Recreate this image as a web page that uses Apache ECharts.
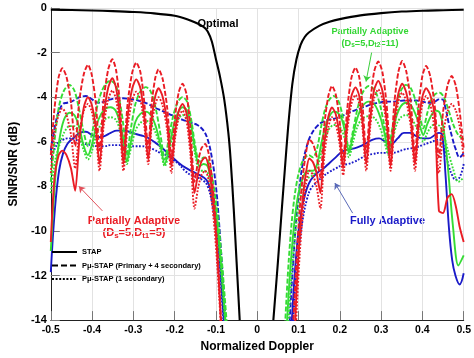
<!DOCTYPE html>
<html>
<head>
<meta charset="utf-8">
<script src="https://cdn.jsdelivr.net/npm/echarts@6/dist/echarts.min.js"></script>
<style>html,body{margin:0;padding:0;background:#fff;}#c{width:474px;height:358px;}</style>
</head>
<body>
<div id="c"></div>
<script>
// ---------- axis ticks ----------
const xTicks = [-0.5,-0.4,-0.3,-0.2,-0.1,0,0.1,0.2,0.3,0.4,0.5];
const yTicks = [-14,-12,-10,-8,-6,-4,-2,0];

// ---------- Optimal ----------
const optXL = [-0.5,-0.45,-0.4,-0.35,-0.3,-0.25,-0.2,-0.17,-0.15,-0.13,-0.12,-0.11,-0.1,-0.09,-0.08,-0.07,-0.0645,-0.057,-0.05,-0.0425];
const optYL = [-0.08,-0.09,-0.11,-0.14,-0.18,-0.24,-0.35,-0.5,-0.65,-0.85,-1.05,-1.5,-2.3,-3.1,-4.1,-5.6,-6.8,-9.0,-11.4,-14];
const optXR = [0.039,0.05,0.06,0.067,0.075,0.085,0.095,0.105,0.115,0.125,0.15,0.175,0.2,0.25,0.3,0.35,0.4,0.45,0.5];
const optYR = [-14,-11.4,-8.9,-7.2,-5.3,-3.4,-2.3,-1.65,-1.3,-1.1,-0.8,-0.62,-0.5,-0.33,-0.23,-0.16,-0.12,-0.1,-0.08];

// ---------- Partially adaptive (Ds=5, Dt1=5) : red ----------
const redXL = [-0.500,-0.491,-0.481,-0.472,-0.462,-0.451,-0.441,
  -0.431,-0.420,-0.410,-0.401,-0.391,-0.382,
  -0.372,-0.361,-0.351,-0.342,-0.333,-0.324,
  -0.314,-0.303,-0.293,-0.283,-0.274,-0.264,
  -0.256,-0.247,-0.239,-0.229,-0.218,-0.208,
  -0.199,-0.190,-0.181,-0.171,-0.162,-0.152,
  -0.143,-0.135,-0.126,
  -0.118,-0.110,-0.103,-0.097,-0.092,-0.086];
const redDashedL = [-6.6,-4.5,-3.1,-2.7,-3.09,-4.25,-6.2,
  -4.17,-2.96,-2.55,-2.98,-4.26,-6.4,
  -4.12,-2.76,-2.3,-2.78,-4.21,-6.6,
  -4.29,-2.91,-2.45,-2.88,-4.16,-6.3,
  -4.33,-3.14,-2.75,-3.19,-4.5,-6.7,
  -4.87,-3.77,-3.4,-3.89,-5.35,-7.8,
  -6.85,-6.29,-6.1,
  -6.5,-7.6,-9.0,-10.7,-12.4,-14.6];
const redSolidL = [-10.5,-7.6,-6.6,-6.4,-6.6,-7.2,-8.2,
  -5.98,-4.45,-4.0,-4.33,-5.33,-7.0,
  -4.86,-3.58,-3.15,-3.58,-4.86,-7.0,
  -4.89,-3.62,-3.2,-3.6,-4.8,-6.8,
  -5.02,-3.96,-3.6,-3.99,-5.16,-7.1,
  -5.54,-4.61,-4.3,-4.74,-6.08,-8.3,
  -7.41,-6.88,-6.7,
  -7.1,-8.1,-9.4,-11.0,-12.6,-14.9];
const redDottedL = [-7.4,-5.6,-4.8,-4.5,-4.8,-5.7,-7.2,
  -5.59,-4.62,-4.3,-4.63,-5.63,-7.3,
  -5.3,-4.1,-3.7,-4.1,-5.3,-7.3,
  -5.33,-4.14,-3.75,-4.11,-5.19,-7.0,
  -5.33,-4.33,-4.0,-4.38,-5.51,-7.4,
  -5.84,-4.91,-4.6,-5.09,-6.55,-9.0,
  -8.05,-7.49,-7.3,
  -7.7,-8.7,-10.0,-11.5,-13.0,-15.0];
const redXR = [0.086,0.092,0.097,0.103,0.110,0.118,0.126,
  0.135,0.144,0.153, 0.162,0.172,0.181, 0.190,0.199,0.208,
  0.218,0.228,0.238, 0.247,0.255,0.264, 0.274,0.283,0.293,
  0.303,0.313,0.323, 0.332,0.342,0.351, 0.361,0.372,0.382,
  0.391,0.400,0.409, 0.419,0.430,0.440, 0.450,0.461,0.471,
  0.481,0.490,0.500];
const redDashedR = [-14.6,-12.4,-10.7,-9.0,-7.6,-6.5,-5.9,
  -6.09,-6.66,-7.6, -5.32,-3.96,-3.5, -3.87,-4.97,-6.8,
  -4.51,-3.14,-2.68, -3.1,-4.38,-6.5, -4.22,-2.86,-2.4,
  -2.87,-4.27,-6.6, -4.25,-2.85,-2.38, -2.85,-4.25,-6.6,
  -4.38,-3.04,-2.6, -3.06,-4.42,-6.7, -4.67,-3.46,-3.05,
  -3.5,-4.6,-6.3];
const redSolidR = [-16.5,-14.0,-12.0,-10.2,-8.6,-7.4,-6.75,
  -6.92,-7.44,-8.3, -6.16,-4.89,-4.46, -4.76,-5.68,-7.2,
  -5.18,-3.96,-3.56, -3.94,-5.09,-7.0, -4.93,-3.68,-3.27,
  -3.7,-4.97,-7.1, -5.04,-3.81,-3.4, -3.8,-5.0,-7.0,
  -5.11,-3.98,-3.6, -3.9,-4.9,-9.1, -9.2,-8.5,-8.35,
  -8.9,-9.8,-10.5];
const redDottedR = [-17.5,-15.0,-13.0,-11.0,-9.3,-7.9,-7.3,
  -7.49,-8.05,-9.0, -6.72,-5.36,-4.9, -5.19,-6.05,-7.5,
  -5.5,-4.3,-3.9, -4.28,-5.41,-7.3, -5.27,-4.05,-3.65,
  -4.06,-5.27,-7.3, -5.35,-4.19,-3.8, -4.19,-5.35,-7.3,
  -5.44,-4.32,-3.95, -4.33,-5.48,-7.4, -5.68,-4.64,-4.3,
  -4.6,-5.3,-6.7];

// ---------- Partially adaptive (Ds=5, Dt2=11) : green ----------
const greenXL = [-0.5,-0.49,-0.48,-0.468,-0.455,-0.443,-0.432,-0.42,-0.41,-0.4,-0.39,-0.378,-0.366,-0.355,-0.343,-0.332,-0.324,-0.316,-0.306,-0.295,-0.283,-0.27,-0.258,-0.246,-0.235,-0.224,-0.214,-0.203,-0.192,-0.181,-0.17,-0.16,-0.15,-0.14,-0.13,-0.12,-0.11,-0.1,-0.092,-0.085,-0.079,-0.073,-0.068];
const greenDashedL = [-7.8,-5.8,-4.4,-3.7,-3.45,-3.7,-4.5,-5.6,-6.2,-5.6,-4.6,-3.8,-3.38,-3.27,-3.45,-4.3,-5.3,-6.6,-5.4,-4.3,-3.75,-3.55,-3.75,-4.5,-5.6,-6.8,-5.8,-4.8,-4.2,-4.0,-4.2,-5.0,-6.2,-6.9,-6.7,-6.8,-7.5,-8.7,-10.0,-11.5,-12.9,-14.4,-16];
const greenSolidL = [-10.9,-7.8,-6.0,-5.0,-4.7,-4.8,-5.3,-6.2,-6.6,-6.1,-5.3,-4.75,-4.5,-4.45,-4.6,-5.2,-5.9,-6.9,-6.0,-5.1,-4.75,-4.65,-4.8,-5.3,-6.1,-7.0,-6.3,-5.3,-4.7,-4.45,-4.6,-5.3,-6.4,-7.1,-7.0,-7.1,-7.9,-9.2,-10.6,-12.1,-13.6,-15.0,-16.5];
const greenDottedL = [-8.3,-6.9,-6.2,-5.6,-5.3,-5.3,-5.7,-6.4,-6.8,-6.4,-5.7,-5.2,-4.95,-4.9,-5.0,-5.5,-6.1,-7.0,-6.3,-5.5,-5.15,-5.05,-5.2,-5.6,-6.3,-7.1,-6.5,-5.6,-5.0,-4.8,-5.0,-5.6,-6.6,-7.3,-7.3,-7.4,-8.2,-9.5,-10.9,-12.4,-13.9,-15.3,-16.8];
const greenXR = [0.064,0.07,0.076,0.083,0.09,0.098,0.107,0.116,0.125,0.135,0.145,0.155,0.165,0.175,0.185,0.195,0.205,0.214,0.222,0.232,0.243,0.255,0.27,0.285,0.298,0.308,0.318,0.328,0.338,0.348,0.36,0.372,0.384,0.394,0.402,0.412,0.422,0.432,0.442,0.452,0.462,0.474,0.487,0.5];
const greenDashedR = [-15.5,-13.3,-11.4,-9.7,-8.5,-7.6,-7.0,-6.7,-6.6,-6.7,-6.3,-5.3,-4.5,-4.1,-3.95,-4.1,-4.7,-5.6,-6.3,-5.5,-4.5,-3.8,-3.5,-3.7,-4.4,-5.3,-6.2,-5.3,-4.3,-3.7,-3.45,-3.6,-4.2,-4.9,-5.4,-4.7,-4.1,-3.85,-3.8,-4.0,-4.5,-5.2,-5.7,-5.9];
const greenSolidR = [-17.2,-14.9,-12.8,-11.0,-9.6,-8.5,-7.8,-7.4,-7.3,-7.3,-7.0,-6.1,-5.3,-4.85,-4.65,-4.7,-5.0,-5.7,-6.5,-5.7,-4.9,-4.4,-4.2,-4.35,-4.9,-5.6,-6.4,-5.6,-4.8,-4.4,-4.25,-4.35,-4.8,-5.3,-5.7,-5.2,-4.8,-4.6,-4.7,-5.5,-7.2,-9.8,-11.55,-11.1];
const greenDottedR = [-18.5,-16.2,-14.0,-12.0,-10.5,-9.2,-8.3,-7.8,-7.6,-7.5,-7.2,-6.5,-5.8,-5.4,-5.25,-5.25,-5.5,-6.0,-6.7,-6.0,-5.3,-4.95,-4.85,-4.95,-5.4,-6.0,-6.6,-5.9,-5.2,-4.9,-4.8,-4.9,-5.3,-5.7,-6.0,-5.6,-5.3,-5.2,-5.3,-5.7,-6.4,-7.2,-7.8,-7.6];

// ---------- Fully adaptive : blue ----------
const blueXL = [-0.5,-0.49,-0.48,-0.47,-0.46,-0.45,-0.44,-0.43,-0.415,-0.4,-0.385,-0.37,-0.355,-0.34,-0.325,-0.31,-0.295,-0.28,-0.265,-0.25,-0.235,-0.22,-0.205,-0.19,-0.175,-0.16,-0.145,-0.13,-0.12,-0.11,-0.1,-0.093,-0.087,-0.081,-0.076];
const blueDashedL = [-6.4,-5.3,-4.6,-4.3,-4.25,-4.2,-4.1,-4.0,-3.95,-4.1,-4.25,-4.2,-4.1,-4.05,-4.05,-4.08,-4.12,-4.2,-4.3,-4.45,-4.58,-4.7,-4.82,-4.95,-5.05,-5.15,-5.25,-5.5,-5.9,-6.7,-8.0,-9.5,-11.1,-12.8,-14.5];
const blueSolidL = [-11.85,-9.0,-7.3,-6.5,-6.1,-5.9,-5.75,-5.6,-5.55,-5.7,-5.8,-5.75,-5.6,-5.5,-5.5,-5.55,-5.65,-5.72,-5.82,-6.0,-6.2,-6.45,-6.7,-6.95,-7.15,-7.3,-7.45,-7.6,-7.8,-8.4,-9.5,-10.8,-12.3,-14.0,-15.6];
const blueDottedL = [-6.8,-6.3,-6.0,-5.9,-5.85,-5.85,-5.9,-6.0,-6.1,-6.15,-6.2,-6.2,-6.15,-6.15,-6.15,-6.2,-6.2,-6.2,-6.25,-6.35,-6.5,-6.6,-6.8,-7.0,-7.3,-7.5,-7.6,-7.75,-8.0,-8.7,-9.9,-11.2,-12.7,-14.3,-16.0];
const blueXR = [0.076,0.081,0.087,0.093,0.1,0.11,0.12,0.13,0.145,0.16,0.175,0.19,0.205,0.22,0.235,0.25,0.265,0.28,0.295,0.31,0.325,0.34,0.355,0.37,0.385,0.4,0.415,0.43,0.44,0.448,0.456,0.464,0.472,0.48,0.49,0.5];
const blueDashedR = [-15.0,-13.2,-11.4,-9.8,-8.4,-7.0,-6.2,-5.7,-5.3,-5.1,-5.0,-4.95,-4.85,-4.7,-4.6,-4.5,-4.4,-4.3,-4.25,-4.2,-4.2,-4.18,-4.15,-4.15,-4.15,-4.2,-4.25,-4.2,-4.1,-4.1,-4.5,-5.2,-5.8,-6.3,-6.7,-6.5];
const blueSolidR = [-17.0,-15.0,-13.0,-11.4,-10.0,-8.8,-8.1,-7.7,-7.4,-7.2,-6.95,-6.7,-6.45,-6.35,-6.3,-6.2,-6.05,-5.9,-5.85,-6.0,-6.1,-5.85,-5.6,-5.6,-5.75,-5.85,-5.85,-5.7,-5.6,-5.7,-7.5,-9.8,-11.3,-12.0,-12.4,-11.9];
const blueDottedR = [-18.0,-16.0,-14.0,-12.3,-10.9,-9.5,-8.6,-8.1,-7.8,-7.55,-7.35,-7.2,-7.05,-7.0,-6.9,-6.75,-6.6,-6.55,-6.5,-6.5,-6.5,-6.45,-6.35,-6.3,-6.25,-6.15,-6.05,-5.95,-5.9,-6.0,-6.5,-7.1,-7.5,-7.7,-7.6,-7.0];

// ---------- legend names ----------
const legendNames = ['STAP', 'P\u03bc-STAP (Primary + 4 secondary)', 'P\u03bc-STAP (1 secondary)'];

// ---------- styling ----------
const FONT = '"Liberation Sans", Arial, sans-serif';
const RED = '#ea1c24', GREEN = '#35dc35', BLUE = '#1a1ac8';
const SOLID = 'solid', DASHED = [5, 2], DOTTED = [1.8, 1.6];
const zip = (xs, ys) => xs.map((x, i) => [x, ys[i]]);
function mk(name, xs, ys, color, type, width, smooth) {
  return {
    name: name, type: 'line', data: zip(xs, ys), symbol: 'none', showSymbol: false,
    smooth: smooth, clip: true, silent: true,
    lineStyle: { color: color, width: width, type: type },
    itemStyle: { color: color }, emphasis: { disabled: true }
  };
}

const W = 1.9;
const series = [];
[['L', blueXL, blueSolidL, blueDashedL, blueDottedL], ['R', blueXR, blueSolidR, blueDashedR, blueDottedR]].forEach(s => {
  series.push(mk('bs' + s[0], s[1], s[2], BLUE, SOLID, W, 0.4));
  series.push(mk('bd' + s[0], s[1], s[3], BLUE, DASHED, W, 0.4));
  series.push(mk('bo' + s[0], s[1], s[4], BLUE, DOTTED, W, 0.4));
});
[['L', greenXL, greenSolidL, greenDashedL, greenDottedL], ['R', greenXR, greenSolidR, greenDashedR, greenDottedR]].forEach(s => {
  series.push(mk('gs' + s[0], s[1], s[2], GREEN, SOLID, W, 0.3));
  series.push(mk('gd' + s[0], s[1], s[3], GREEN, DASHED, W, 0.3));
  series.push(mk('go' + s[0], s[1], s[4], GREEN, DOTTED, W, 0.3));
});
[['L', redXL, redSolidL, redDashedL, redDottedL], ['R', redXR, redSolidR, redDashedR, redDottedR]].forEach(s => {
  series.push(mk('rs' + s[0], s[1], s[2], RED, SOLID, W, 0.25));
  series.push(mk('rd' + s[0], s[1], s[3], RED, DASHED, W, 0.25));
  series.push(mk('ro' + s[0], s[1], s[4], RED, DOTTED, W, 0.25));
});
const optL = mk('optL', optXL, optYL, '#000', SOLID, 2.1, 0.3);
optL.markLine = {
  silent: true, symbol: ['none', 'arrow'], symbolSize: 6, label: { show: false },
  lineStyle: { width: 1, type: 'solid' },
  data: [
    [{ coord: [-0.375, -9.1], lineStyle: { color: '#e2505a', width: 1, type: 'solid' }, itemStyle: { color: '#e2505a' } }, { coord: [-0.432, -8.0] }],
    [{ coord: [0.277, -2.0], lineStyle: { color: '#3ccf3c', width: 1, type: 'solid' }, itemStyle: { color: '#3ccf3c' } }, { coord: [0.2635, -3.3] }],
    [{ coord: [0.231, -9.2], lineStyle: { color: '#5a6ab8', width: 1, type: 'solid' }, itemStyle: { color: '#5a6ab8' } }, { coord: [0.188, -7.85] }]
  ]
};
series.push(optL);
series.push(mk('optR', optXR, optYR, '#000', SOLID, 2.1, 0.3));
// legend-only series (black samples)
series.push({ name: legendNames[0], type: 'line', data: [], symbol: 'none', color: '#000', lineStyle: { color: '#000', width: 2.6, type: 'solid' } });
series.push({ name: legendNames[1], type: 'line', data: [], symbol: 'none', color: '#000', lineStyle: { color: '#000', width: 2.6, type: [6, 3] } });
series.push({ name: legendNames[2], type: 'line', data: [], symbol: 'none', color: '#000', lineStyle: { color: '#000', width: 2.6, type: [2, 1.6] } });

function rich(size, sub, color) {
  return {
    n: { fontSize: size, fontWeight: 'bold', fontFamily: FONT, fill: color, color: color },
    s: { fontSize: sub, fontWeight: 'bold', fontFamily: FONT, fill: color, color: color, verticalAlign: 'bottom', lineHeight: sub }
  };
}

const option = {
  animation: false,
  backgroundColor: '#fff',
  grid: { left: 34, right: 9.3, top: 8, bottom: 35, containLabel: false },
  xAxis: {
    type: 'value', min: xTicks[0], max: xTicks[xTicks.length - 1], interval: 0.1,
    name: 'Normalized Doppler', nameLocation: 'middle', nameGap: 17,
    nameTextStyle: { fontFamily: FONT, fontWeight: 'bold', fontSize: 12, color: '#000' },
    axisLine: { show: true, onZero: false, lineStyle: { color: '#222', width: 1 } },
    axisTick: { show: true, inside: true, length: 9, lineStyle: { color: '#777', width: 1 } },
    axisLabel: { fontFamily: FONT, fontWeight: 'bold', fontSize: 10.5, color: '#000', margin: 5 },
    splitLine: { show: true, lineStyle: { color: '#e2e2e2', width: 1 } }
  },
  yAxis: {
    type: 'value', min: yTicks[0], max: yTicks[yTicks.length - 1], interval: 2,
    name: 'SINR/SNR (dB)', nameLocation: 'middle', nameGap: 26,
    nameTextStyle: { fontFamily: FONT, fontWeight: 'bold', fontSize: 12, color: '#000' },
    axisLine: { show: true, onZero: false, lineStyle: { color: '#222', width: 1 } },
    axisTick: { show: true, inside: true, length: 9, lineStyle: { color: '#777', width: 1 } },
    axisLabel: { fontFamily: FONT, fontWeight: 'bold', fontSize: 11, color: '#000', margin: 4 },
    splitLine: { show: true, lineStyle: { color: '#e2e2e2', width: 1 } }
  },
  legend: {
    data: legendNames, orient: 'vertical', left: 51, top: 248, padding: 0,
    itemWidth: 25, itemHeight: 9, itemGap: 5.5, selectedMode: false,
    backgroundColor: 'transparent',
    itemStyle: { opacity: 0, borderWidth: 0 },
    textStyle: { fontFamily: FONT, fontWeight: 'bold', fontSize: 7.5, color: '#000' }
  },
  graphic: [
    { type: 'text', x: 218, y: 24, silent: true,
      style: { text: 'Optimal', font: 'bold 11px ' + FONT, fill: '#000', align: 'center', verticalAlign: 'middle' } },
    { type: 'text', x: 370, y: 37.5, silent: true,
      style: { text: '{n|Partially Adaptive}\n{n|(D}{s|s}{n|=5,D}{s|t2}{n|=11)}', align: 'center', verticalAlign: 'middle',
        fill: GREEN, lineHeight: 11.6, rich: rich(9.2, 6.5, '#33d633') } },
    { type: 'text', x: 134, y: 227, silent: true,
      style: { text: '{n|Partially Adaptive}\n{n|(D}{s|s}{n|=5,D}{s|t1}{n|=5)}', align: 'center', verticalAlign: 'middle',
        fill: RED, lineHeight: 12.3, rich: rich(11, 8, RED) } },
    { type: 'text', x: 387.5, y: 220.5, silent: true,
      style: { text: 'Fully Adaptive', font: 'bold 11px ' + FONT, fill: BLUE, align: 'center', verticalAlign: 'middle' } }
  ],
  series: series
};

const chart = echarts.init(document.getElementById('c'), null, { renderer: 'canvas' });
chart.setOption(option);
</script>
</body>
</html>
